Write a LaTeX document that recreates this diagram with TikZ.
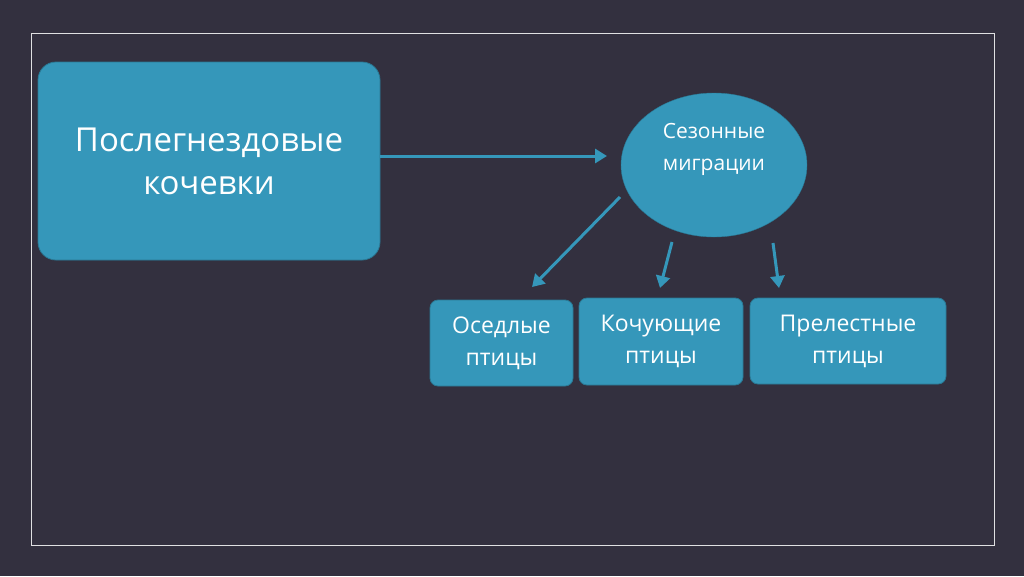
\documentclass[tikz,border=0pt]{standalone}
\usepackage{fontspec}
\setmainfont{Open Sans}
\usetikzlibrary{shapes.geometric,arrows.meta}
\definecolor{bg}{HTML}{33303F}
\definecolor{tl}{HTML}{3597BA}
\tikzset{
  box/.style={fill=tl,draw=tl!80!black,line width=0.8pt,rounded corners=8pt,text=white,align=center,font=\fontsize{23}{32}\selectfont},
  arr/.style={draw=tl,line width=3pt,-{Triangle[length=12pt,width=14pt]}}
}
\begin{document}
\begin{tikzpicture}[x=1pt,y=-1pt]
\fill[bg] (0,0) rectangle (1024,576);
\useasboundingbox (0,0) rectangle (1024,576);
\draw[white!85!bg,line width=0.8pt] (31,33) rectangle (994,545);
\node[box,rounded corners=18pt,minimum width=342pt,minimum height=198pt,font=\fontsize{33}{43}\selectfont] (big) at (209,161) {Послегнездовые\\кочевки};
\node[ellipse,fill=tl,draw=tl!80!black,minimum width=186pt,minimum height=144pt] (mig) at (714,165) {};
\node[text=white,align=center,font=\fontsize{21}{32}\selectfont] (migt) at (714,149) {Сезонные\\миграции};
\node[box,minimum width=143pt,minimum height=86pt] (a) at (501.5,343) {Оседлые\\птицы};
\node[box,minimum width=164pt,minimum height=87pt] (b) at (661,341.5) {Кочующие\\птицы};
\node[box,minimum width=196pt,minimum height=86pt] (c) at (848,341) {Прелестные\\птицы};
\coordinate (m1) at (620,197); \coordinate (m2) at (672,242); \coordinate (m3) at (773,243);
\coordinate (t1) at (532,287); \coordinate (t2) at (660,288); \coordinate (t3) at (779,288);
\coordinate (bs) at (380,156); \coordinate (me) at (607,156);
\draw[arr] (bs) -- (me);
\draw[arr] (m1) -- (t1);
\draw[arr] (m2) -- (t2);
\draw[arr] (m3) -- (t3);
\end{tikzpicture}
\end{document}
